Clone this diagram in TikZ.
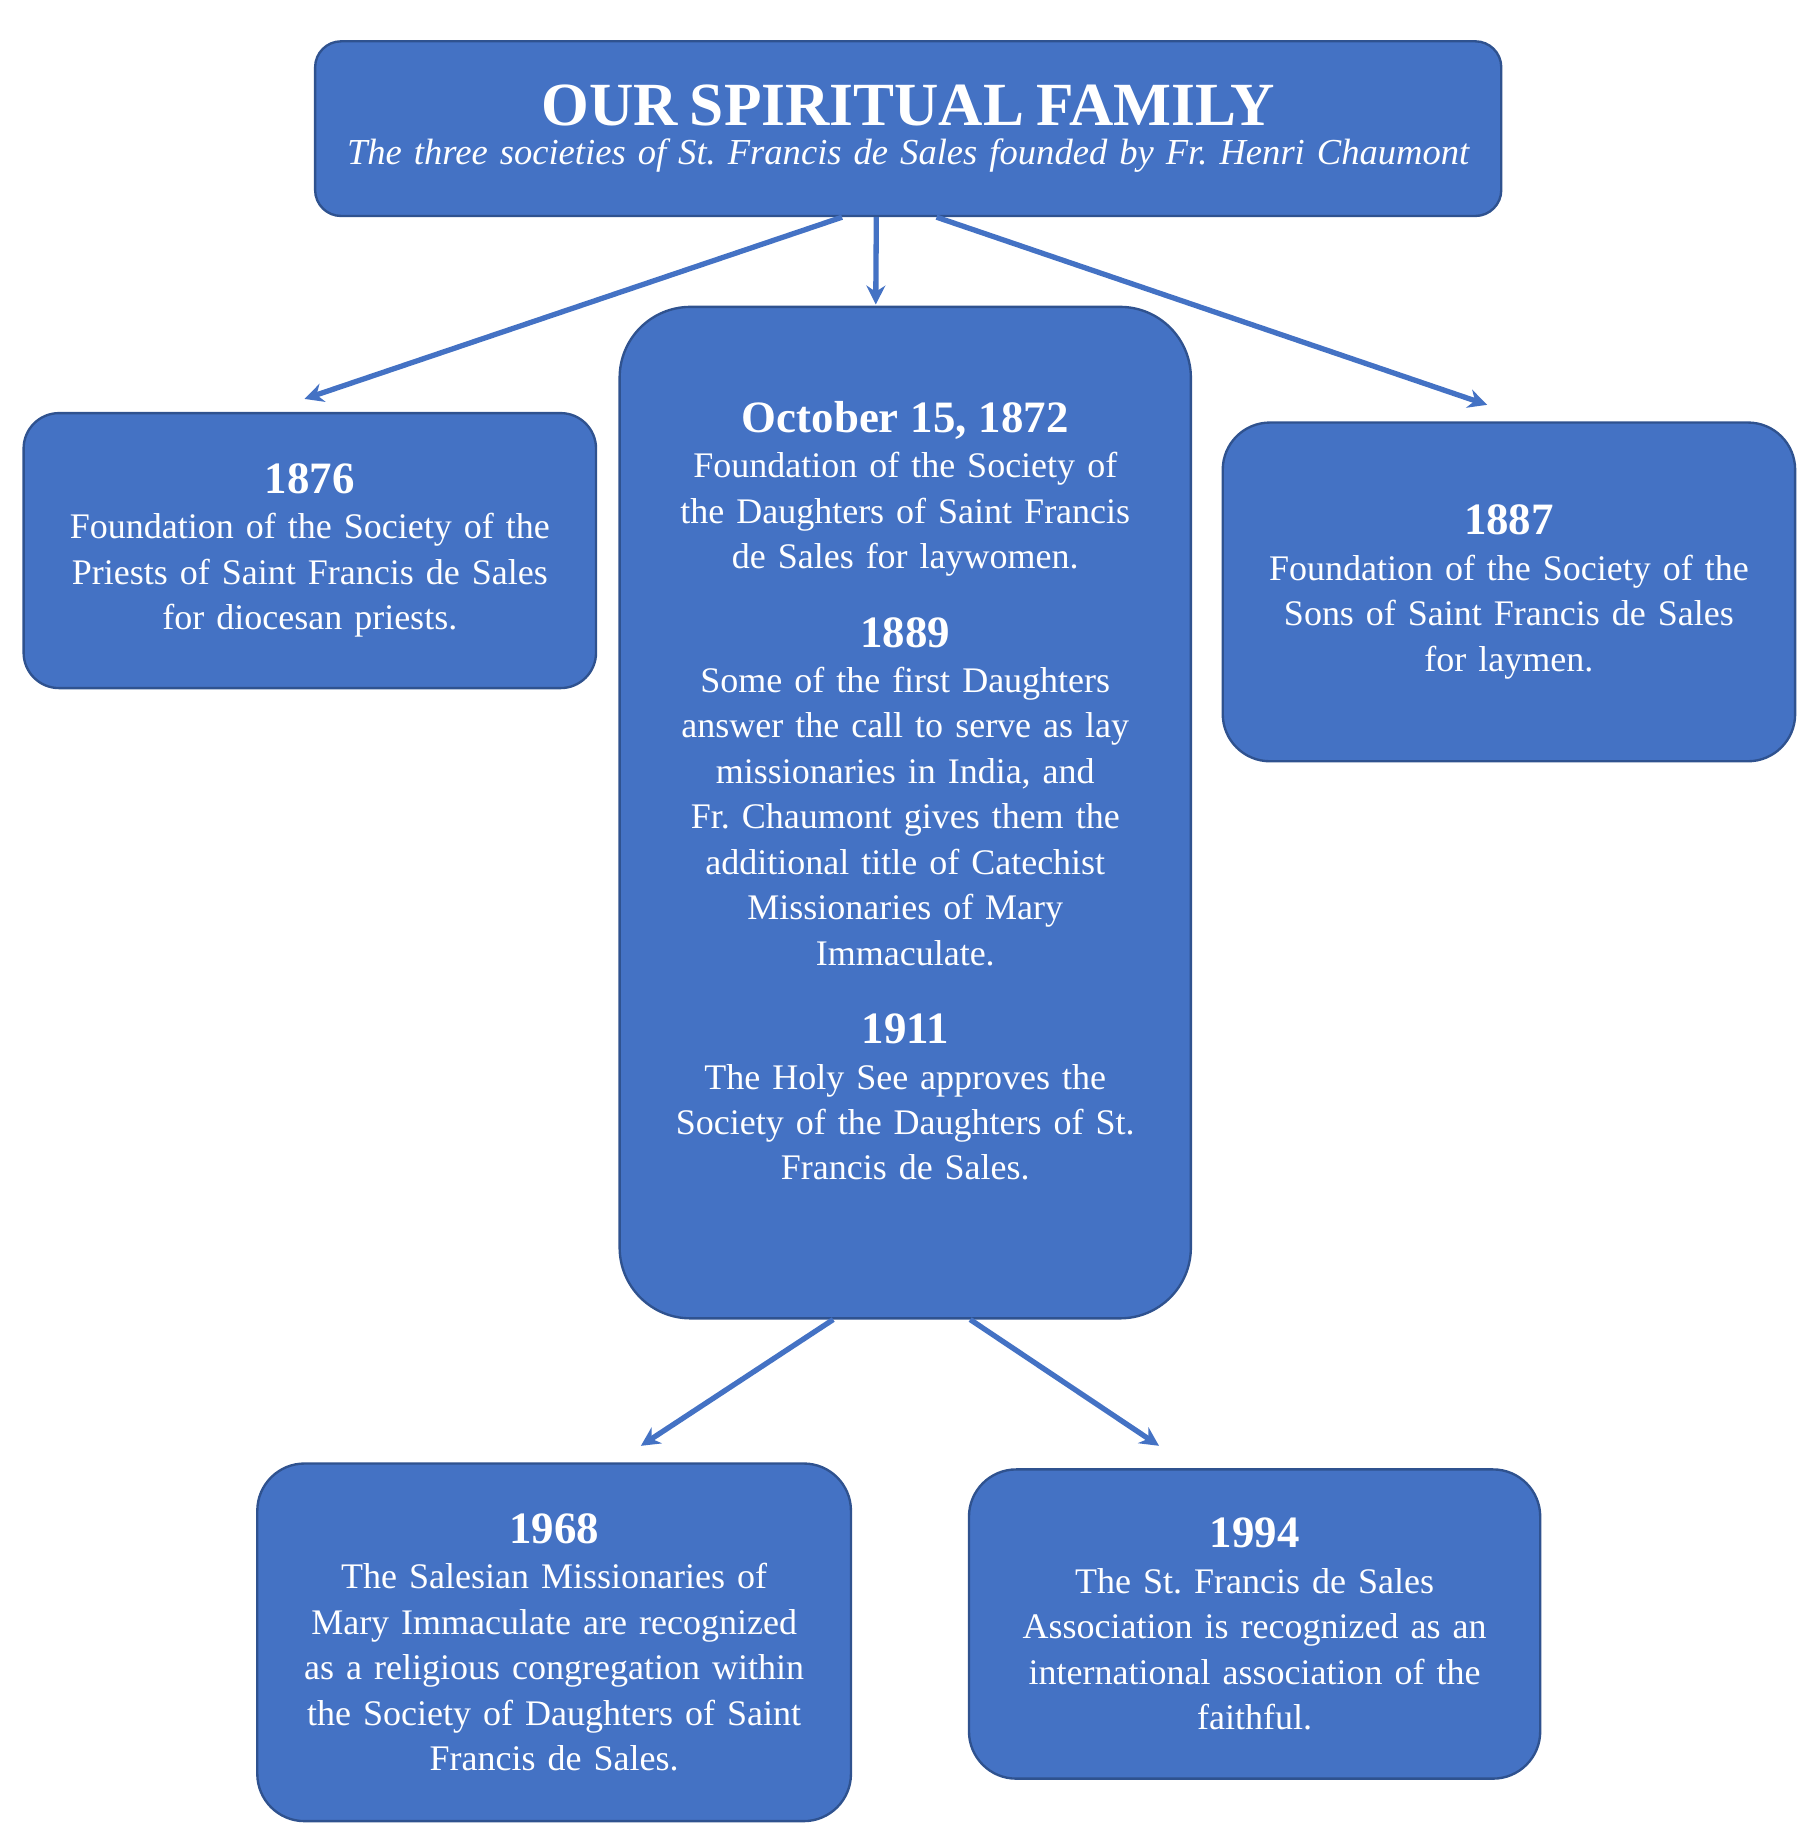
\documentclass[tikz,border=0pt]{standalone}
\usepackage{fontspec}
\setmainfont{Liberation Serif}
\usetikzlibrary{arrows.meta}
\definecolor{boxfill}{HTML}{4472C4}
\definecolor{boxline}{HTML}{2F528F}
\newcommand\yrhd{\fontsize{38}{42}\selectfont\bfseries}
\frenchspacing
\begin{document}
\begin{tikzpicture}[x=1pt,y=-1pt,
  box/.style={draw=boxline,fill=boxfill,line width=2pt,rounded corners=30pt,text=white,align=center,inner sep=0pt,font=\fontsize{30.5}{38.5}\selectfont},
  txt/.style={text=white,align=center,inner sep=0pt,font=\fontsize{30.5}{38.5}\selectfont},
  arr/.style={draw=boxfill,line width=4.5pt,-{Stealth[length=16pt,width=16pt]}}]
\useasboundingbox (0,0) rectangle (1530,1559);
\node[box,rounded corners=22pt,minimum width=1005pt,minimum height=148pt,text width=990pt] (title) at (769.5,109)
 {{\fontsize{52}{58}\selectfont\bfseries OUR SPIRITUAL FAMILY}\\[-6pt]{\fontsize{31}{38}\selectfont\itshape The three societies of St. Francis de Sales founded by Fr. Henri Chaumont}};
\node[box,minimum width=485pt,minimum height=233pt,text width=470pt] (left) at (262.5,466.5)
 {{\yrhd 1876}\\Foundation of the Society of the\\Priests of Saint Francis de Sales\\for diocesan priests.};
\node[box,rounded corners=60pt,minimum width=484pt,minimum height=857pt] (center) at (767,688.5) {};
\node[txt,text width=470pt] (ctext) at (767,670)
 {{\yrhd October 15, 1872}\\Foundation of the Society of\\the Daughters of Saint Francis\\de Sales for laywomen.\\[28pt]
 {\yrhd 1889}\\Some of the first Daughters\\answer the call to serve as lay\\missionaries in India, and\\Fr. Chaumont gives them the\\additional title of Catechist\\Missionaries of Mary\\Immaculate.\\[28pt]
 {\yrhd 1911}\\The Holy See approves the\\Society of the Daughters of St.\\Francis de Sales.};
\node[box,rounded corners=40pt,minimum width=485pt,minimum height=287pt,text width=470pt] (right) at (1278.5,501.5)
 {{\yrhd 1887}\\Foundation of the Society of the\\Sons of Saint Francis de Sales\\for laymen.};
\node[box,rounded corners=40pt,minimum width=503pt,minimum height=303pt,text width=490pt] (bl) at (469.5,1391.5)
 {{\yrhd 1968}\\The Salesian Missionaries of\\Mary Immaculate are recognized\\as a religious congregation within\\the Society of Daughters of Saint\\Francis de Sales.};
\node[box,rounded corners=40pt,minimum width=484pt,minimum height=262pt,text width=470pt] (br) at (1063,1376)
 {{\yrhd 1994}\\The St. Francis de Sales\\Association is recognized as an\\international association of the\\faithful.};
\coordinate (a1) at (258,338);
\coordinate (a2) at (742,258);
\coordinate (a3) at (1260,343);
\coordinate (a4) at (543,1225);
\coordinate (a5) at (982,1225);
\draw[arr] ([xshift=-56pt]title.south) -- (a1);
\draw[arr] ([xshift=-27pt]title.south) -- (a2);
\draw[arr] ([xshift=24pt]title.south) -- (a3);
\draw[arr] ([xshift=-61pt]center.south) -- (a4);
\draw[arr] ([xshift=55pt]center.south) -- (a5);
\end{tikzpicture}
\end{document}
